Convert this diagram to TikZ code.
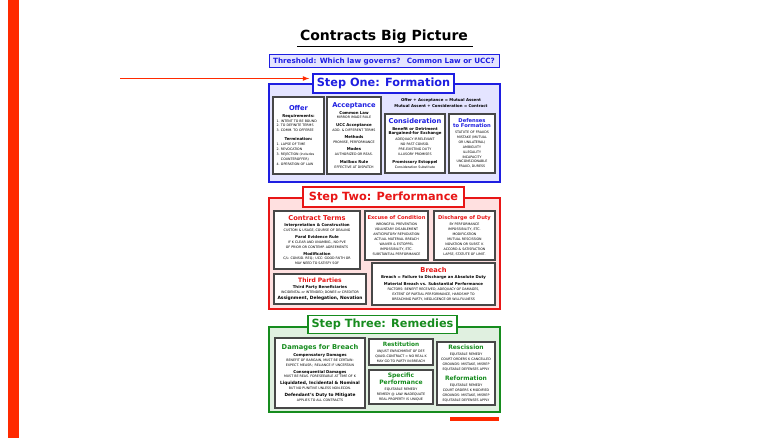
\documentclass[tikz,border=0pt]{standalone}
\usepackage{fontspec}
\setmainfont{DejaVu Sans}
\definecolor{formblue}{RGB}{30,30,225}
\definecolor{formfill}{RGB}{228,228,255}
\definecolor{perfred}{RGB}{232,22,22}
\definecolor{perffill}{RGB}{255,224,224}
\definecolor{remgreen}{RGB}{22,140,30}
\definecolor{remfill}{RGB}{224,240,224}
\definecolor{barred}{RGB}{255,42,0}
\newcommand{\boxhd}{\fontsize{6.7}{7.7}\selectfont\bfseries}
\newcommand{\smallhd}{\fontsize{5.2}{6.2}\selectfont\bfseries}
\newcommand{\boxsb}{\fontsize{3.9}{4.8}\selectfont\bfseries}
\newcommand{\listline}[1]{\makebox[44pt][l]{#1}}

\begin{document}
\begin{tikzpicture}[x=1pt, y=-1pt,
  inbox/.style={draw=black!72, line width=1.4pt, fill=white, align=center, inner sep=0pt,
    font=\fontsize{3.25}{4.9}\selectfont},
  steplabel/.style={fill=white, line width=1.6pt, inner sep=0pt,
    font=\fontsize{11.3}{13}\selectfont\bfseries},
  stepframe/.style={line width=1.6pt, inner sep=0pt}]
\fill[white] (0,0) rectangle (768,438);
\useasboundingbox (0,0) rectangle (768,438);
% side bar and arrow
\fill[barred] (8,0) rectangle (19,438);
\fill[barred] (450,417) rectangle (499,421);
% title
\node [font=\fontsize{14}{16}\selectfont\bfseries] (title) at (384,36.5) {Contracts Big Picture};
\draw[line width=1.3pt] (297,46.5) -- (473,46.5);
\node [draw=formblue, fill=formfill, line width=1pt, text=formblue, minimum width=230pt, minimum height=13pt,
  inner sep=0pt, font=\fontsize{7.2}{8}\selectfont\bfseries] (threshold) at (384,61.5)
  {Threshold: Which law governs?\hspace{3pt} Common Law or UCC?};

% step one
\node [stepframe, draw=formblue, fill=formfill, minimum width=231pt, minimum height=98pt] (stepone) at (384.5,133) {};
\node [steplabel, draw=formblue, text=formblue, minimum width=141pt, minimum height=19pt] (onelabel) at (383.5,83.5) {Step One: Formation};
\coordinate (arrowtail) at (120,78.5);
\draw[barred, line width=1.2pt, -latex, shorten >=3pt] (arrowtail) -- (arrowtail -| onelabel.west);
\node [inbox, minimum width=51pt, minimum height=77pt] (offer) at (298.5,135.5) {%
  {\boxhd\color{formblue}Offer}\\[1.5pt]
  {\boxsb Requirements:}\\
  \listline{1. INTENT TO BE BOUND}\\
  \listline{2. TO DEFINITE TERMS}\\
  \listline{3. COMM. TO OFFEREE}\\[4pt]
  {\boxsb Termination:}\\
  \listline{1. LAPSE OF TIME}\\
  \listline{2. REVOCATION}\\
  \listline{3. REJECTION (includes}\\
  \listline{\phantom{3. }COUNTEROFFER)}\\
  \listline{4. OPERATION OF LAW}};
\node [inbox, minimum width=54pt, minimum height=77pt] (acceptance) at (354,135.5) {%
  {\boxhd\color{formblue}Acceptance}\\[1.5pt]
  {\boxsb Common Law}\\ MIRROR IMAGE RULE\\[2.5pt]
  {\boxsb UCC Acceptance}\\ ADD. \& DIFFERENT TERMS\\[2.5pt]
  {\boxsb Methods}\\ PROMISE, PERFORMANCE\\[2.5pt]
  {\boxsb Modes}\\ AUTHORIZED OR REAS.\\[2.5pt]
  {\boxsb Mailbox Rule}\\ EFFECTIVE AT DISPATCH};
\node [font=\boxsb, align=center] (formula) at (441,103)
  {Offer + Acceptance = Mutual Assent\\[1pt] Mutual Assent + Consideration = Contract};
\node [inbox, minimum width=60pt, minimum height=59pt] (consideration) at (415,143.5) {%
  {\boxhd\color{formblue}Consideration}\\[1.5pt]
  {\boxsb Benefit or Detriment}\\
  {\boxsb Bargained-for Exchange}\\[1pt]
  ADEQUACY IRRELEVANT\\ NO PAST CONSID.\\ PRE-EXISTING DUTY\\ ILLUSORY PROMISES\\[3pt]
  {\boxsb Promissory Estoppel}\\ Consideration Substitute};
\node [inbox, minimum width=46pt, minimum height=59pt] (defenses) at (472,143.5) {%
  {\smallhd\color{formblue}Defenses}\\
  {\smallhd\color{formblue}to Formation}\\[1pt]
  STATUTE OF FRAUDS\\ MISTAKE (MUTUAL\\ OR UNILATERAL)\\ AMBIGUITY\\ ILLEGALITY\\
  INCAPACITY\\ UNCONSCIONABLE\\ FRAUD, DURESS};

% step two
\node [stepframe, draw=perfred, fill=perffill, minimum width=231pt, minimum height=111pt] (steptwo) at (384.5,253.5) {};
\node [steplabel, draw=perfred, text=perfred, minimum width=161pt, minimum height=20pt] (twolabel) at (383.5,197) {Step Two: Performance};
\node [inbox, minimum width=86pt, minimum height=58pt] (terms) at (317,240) {%
  {\boxhd\color{perfred}Contract Terms}\\[1.5pt]
  {\boxsb Interpretation \& Construction}\\ CUSTOM \& USAGE, COURSE OF DEALING\\[2pt]
  {\boxsb Parol Evidence Rule}\\ IF K CLEAR AND UNAMBIG., NO PVE\\ OF PRIOR OR CONTEMP. AGREEMENTS\\[2pt]
  {\boxsb Modification}\\ C/L: CONSID. REQ.; UCC: GOOD FAITH OR\\ MAY NEED TO SATISFY SOF};
\node [inbox, minimum width=63pt, minimum height=49pt] (excuse) at (396.5,235.5) {%
  {\smallhd\color{perfred}Excuse of Condition}\\[1.5pt]
  WRONGFUL PREVENTION\\ VOLUNTARY DISABLEMENT\\ ANTICIPATORY REPUDIATION\\ ACTUAL MATERIAL BREACH\\
  WAIVER \& ESTOPPEL\\ IMPOSSIBILITY, ETC.\\ SUBSTANTIAL PERFORMANCE};
\node [inbox, minimum width=61pt, minimum height=49pt] (discharge) at (464.5,235.5) {%
  {\smallhd\color{perfred}Discharge of Duty}\\[1.5pt]
  BY PERFORMANCE\\ IMPOSSIBILITY, ETC.\\ MODIFICATION\\ MUTUAL RESCISSION\\
  NOVATION OR SUBST. K\\ ACCORD \& SATISFACTION\\ LAPSE, STATUTE OF LIMIT.};
\node [inbox, minimum width=92pt, minimum height=30pt] (thirdparties) at (320,289) {%
  {\fontsize{6}{7}\selectfont\bfseries\color{perfred}Third Parties}\\[1pt]
  {\boxsb Third Party Beneficiaries}\\ INCIDENTAL or INTENDED; DONEE or CREDITOR\\[1.5pt]
  {\fontsize{4.4}{5.2}\selectfont\bfseries Assignment, Delegation, Novation}};
\node [inbox, minimum width=123pt, minimum height=42pt] (breach) at (433.5,284) {%
  {\boxhd\color{perfred}Breach}\\[1.5pt]
  {\boxsb Breach = Failure to Discharge an Absolute Duty}\\[2pt]
  {\boxsb Material Breach vs. Substantial Performance}\\
  FACTORS: BENEFIT RECEIVED, ADEQUACY OF DAMAGES,\\
  EXTENT OF PARTIAL PERFORMANCE, HARDSHIP TO\\
  BREACHING PARTY, NEGLIGENCE OR WILLFULNESS};

% step three
\node [stepframe, draw=remgreen, fill=remfill, minimum width=231pt, minimum height=85pt] (stepthree) at (384.5,369.5) {};
\node [steplabel, draw=remgreen, text=remgreen, minimum width=149pt, minimum height=18pt] (threelabel) at (382.5,324.5) {Step Three: Remedies};
\node [inbox, minimum width=90pt, minimum height=70pt] (damages) at (320,373) {%
  {\boxhd\color{remgreen}Damages for Breach}\\[2pt]
  {\boxsb Compensatory Damages}\\ BENEFIT OF BARGAIN, MUST BE CERTAIN:\\ EXPECT. MEASR.; RELIANCE IF UNCERTAIN\\[2pt]
  {\boxsb Consequential Damages}\\ MUST BE REAS. FORESEEABLE AT TIME OF K\\[2pt]
  {\fontsize{4.3}{5.2}\selectfont\bfseries Liquidated, Incidental \& Nominal}\\ BUT NO PUNITIVE UNLESS NON-ECON.\\[2pt]
  {\fontsize{4.3}{5.2}\selectfont\bfseries Defendant's Duty to Mitigate}\\ APPLIES TO ALL CONTRACTS};
\node [inbox, minimum width=64pt, minimum height=26pt] (restitution) at (401,352) {%
  {\fontsize{5.8}{6.8}\selectfont\bfseries\color{remgreen}Restitution}\\[1pt]
  UNJUST ENRICHMENT OF DEF.\\ QUASI-CONTRACT = NO REAL K\\ MAY GO TO PARTY IN BREACH};
\node [inbox, minimum width=64pt, minimum height=34pt] (specific) at (401,387) {%
  {\fontsize{6}{7}\selectfont\bfseries\color{remgreen}Specific}\\
  {\fontsize{6}{7}\selectfont\bfseries\color{remgreen}Performance}\\[1pt]
  EQUITABLE REMEDY\\ REMEDY @ LAW INADEQUATE\\ REAL PROPERTY IS UNIQUE};
\node [inbox, minimum width=58pt, minimum height=63pt] (rescission) at (466,373.5) {%
  {\fontsize{6}{7}\selectfont\bfseries\color{remgreen}Rescission}\\[1pt]
  EQUITABLE REMEDY\\ COURT ORDERS K CANCELLED\\ GROUNDS: MISTAKE, MISREP\\ EQUITABLE DEFENSES APPLY\\[4pt]
  {\fontsize{6}{7}\selectfont\bfseries\color{remgreen}Reformation}\\[1pt]
  EQUITABLE REMEDY\\ COURT ORDERS K MODIFIED\\ GROUNDS: MISTAKE, MISREP\\ EQUITABLE DEFENSES APPLY};
\end{tikzpicture}
\end{document}
